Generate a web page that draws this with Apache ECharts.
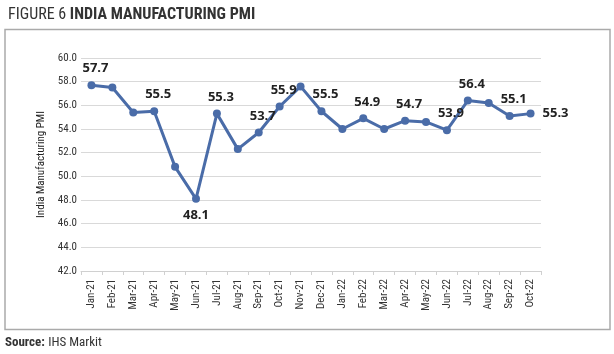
<!DOCTYPE html>
<html>
<head>
<meta charset="utf-8">
<script src="https://cdn.jsdelivr.net/npm/echarts@6/dist/echarts.min.js"></script>
<style>
  html, body { margin: 0; padding: 0; background: #fff; }
  #chart { width: 614px; height: 354px; }
</style>
</head>
<body>
<div id="chart"></div>
<script>
// months on the x axis
const months = [
  'Jan-21', 'Feb-21', 'Mar-21', 'Apr-21', 'May-21', 'Jun-21', 'Jul-21', 'Aug-21',
  'Sep-21', 'Oct-21', 'Nov-21', 'Dec-21', 'Jan-22', 'Feb-22', 'Mar-22', 'Apr-22',
  'May-22', 'Jun-22', 'Jul-22', 'Aug-22', 'Sep-22', 'Oct-22'
];
// PMI values
const pmi = [
  57.7, 57.5, 55.4, 55.5, 50.8, 48.1, 55.3, 52.3,
  53.7, 55.9, 57.6, 55.5, 54.0, 54.9, 54.0, 54.7,
  54.6, 53.9, 56.4, 56.2, 55.1, 55.3
];
// which points carry a value label, and where
const labelled = {
  'Jan-21': 'top', 'Apr-21': 'top', 'Jun-21': 'bottom', 'Jul-21': 'top',
  'Sep-21': 'top', 'Oct-21': 'top', 'Dec-21': 'top', 'Feb-22': 'top',
  'Apr-22': 'top', 'Jun-22': 'top', 'Jul-22': 'top', 'Sep-22': 'top',
  'Oct-22': 'right'
};
const yMin = 42, yMax = 60, yStep = 2;

const narrow = '"Liberation Sans Narrow", "Roboto Condensed", "DejaVu Sans Condensed", sans-serif';
const lineColor = '#4a6ca8';

const chart = echarts.init(document.getElementById('chart'));

const seriesData = pmi.map((v, i) => {
  const pos = labelled[months[i]];
  if (!pos) return { value: v, label: { show: false } };
  return {
    value: v,
    label: {
      show: true,
      position: pos,
      distance: pos === 'right' ? 8 : 6,
      offset: pos === 'top' ? [4, 0] : [0, 0]
    }
  };
});

chart.setOption({
  animation: false,
  title: {
    text: '{a|FIGURE 6 }{b|INDIA MANUFACTURING PMI}',
    left: 3,
    top: 2,
    textStyle: {
      fontWeight: 'normal',
      rich: {
        a: { fontFamily: narrow, fontSize: 16, fontWeight: 'normal', color: '#333' },
        b: { fontFamily: narrow, fontSize: 16, fontWeight: 'bold', color: '#333' }
      }
    }
  },
  graphic: [
    {
      type: 'rect',
      shape: { x: 5, y: 29.5, width: 605, height: 300 },
      style: { fill: 'none', stroke: '#aaaaaa', lineWidth: 1.5 },
      z: -1
    },
    {
      type: 'text',
      left: 5,
      top: 336,
      style: {
        text: '{a|Source:} {b|IHS Markit}',
        rich: {
          a: { fontFamily: narrow, fontSize: 13, fontWeight: 'bold', fill: '#333' },
          b: { fontFamily: narrow, fontSize: 13, fill: '#333' }
        }
      }
    }
  ],
  grid: { left: 81, right: 73, top: 58, bottom: 83 },
  xAxis: {
    type: 'category',
    data: months,
    boundaryGap: true,
    axisLine: { lineStyle: { color: '#d0d0d0', width: 1 } },
    axisTick: { show: true, length: 4, lineStyle: { color: '#d0d0d0' } },
    axisLabel: {
      rotate: 90,
      interval: 0,
      margin: 8,
      fontFamily: narrow,
      fontSize: 11,
      color: '#333'
    }
  },
  yAxis: {
    type: 'value',
    min: yMin,
    max: yMax,
    interval: yStep,
    name: 'India Manufacturing PMI',
    nameLocation: 'middle',
    nameGap: 31,
    nameTextStyle: { fontFamily: narrow, fontSize: 11, color: '#222' },
    axisLine: { show: false },
    axisTick: { show: false },
    axisLabel: {
      formatter: (v) => v.toFixed(1),
      fontFamily: narrow,
      fontSize: 11,
      color: '#333',
      margin: 4
    },
    splitLine: { lineStyle: { color: '#d9d9d9', width: 1 } }
  },
  series: [
    {
      type: 'line',
      data: seriesData,
      symbol: 'circle',
      symbolSize: 8,
      itemStyle: { color: lineColor },
      lineStyle: { color: lineColor, width: 3 },
      label: {
        fontFamily: '"Open Sans", "DejaVu Sans", sans-serif',
        fontWeight: 'bold',
        fontSize: 13,
        color: '#222'
      }
    }
  ]
});
</script>
</body>
</html>
